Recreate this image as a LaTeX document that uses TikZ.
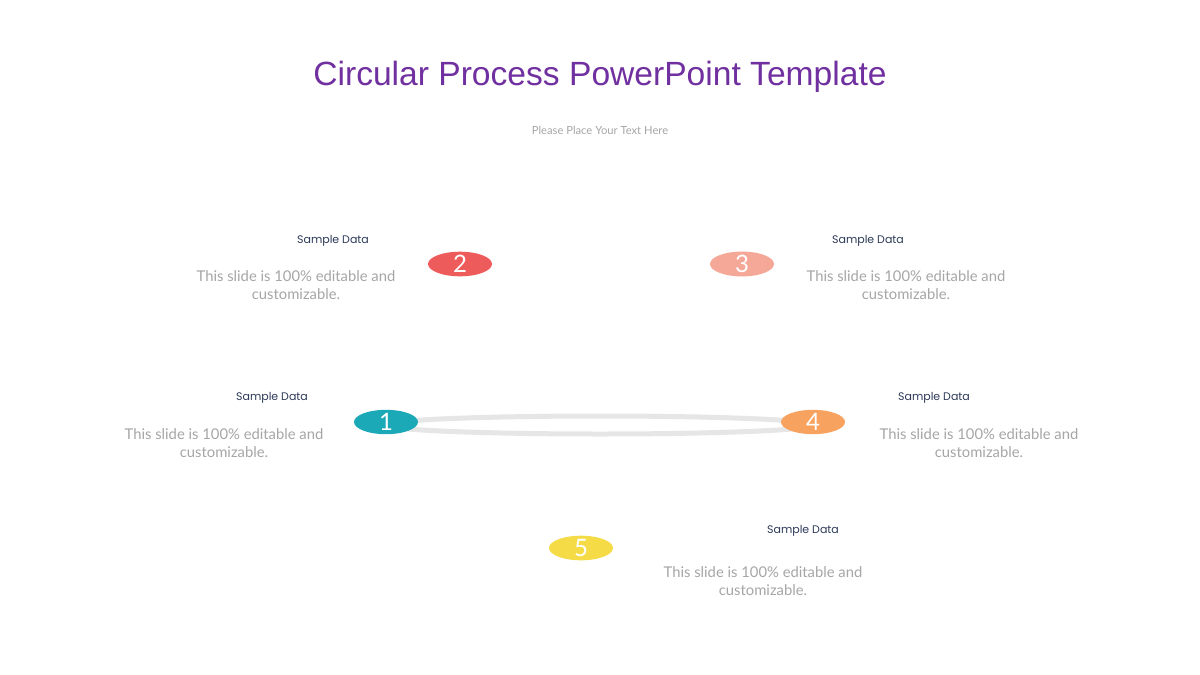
\documentclass[tikz,border=0pt]{standalone}
\usepackage{fontspec}
\setmainfont{Liberation Sans}
\newfontfamily\poppins{Poppins}
\newfontfamily\lato{Lato}
\usetikzlibrary{shapes.geometric}
\definecolor{titlec}{HTML}{7030A0}
\definecolor{headc}{HTML}{2E3A59}
\definecolor{bodyc}{HTML}{A6A6A6}
\definecolor{ringc}{HTML}{E6E6E6}
\definecolor{c1}{HTML}{1BA9B8}
\definecolor{c2}{HTML}{EE5B5B}
\definecolor{c3}{HTML}{F6A898}
\definecolor{c4}{HTML}{F8A25F}
\definecolor{c5}{HTML}{F5DC47}
\begin{document}
\begin{tikzpicture}[x=1pt,y=-1pt,
  head/.style={font=\poppins\fontsize{11}{13}\selectfont, text=headc, inner sep=0pt},
  body/.style={font=\lato\fontsize{14.8}{18}\selectfont, text=bodyc, align=center, inner sep=0pt},
  badge/.style={ellipse, minimum width=64pt, minimum height=19pt, inner sep=0pt,
    text=white, font=\lato\fontsize{24}{24}\selectfont}]
\useasboundingbox (0,0) rectangle (1200,675);
\fill[white] (0,0) rectangle (1200,675);
\node[font=\fontsize{33.6}{38}\selectfont, text=titlec] (title) at (600,77) {Circular Process PowerPoint Template};
\node[font=\lato\fontsize{11.2}{13}\selectfont, text=bodyc] (sub) at (600,130) {Please Place Your Text Here};
\draw[ringc, line width=5pt] (600,425) ellipse [x radius=214, y radius=9];
\node[badge, fill=c1] (b1) at (386,422) {1};
\node[badge, fill=c2] (b2) at (460,264) {2};
\node[badge, fill=c3] (b3) at (742,264) {3};
\node[badge, fill=c4] (b4) at (813,422) {4};
\node[badge, fill=c5] (b5) at (581,548) {5};
\node[head] (h2) at (333,241) {Sample Data};
\node[body] (t2) at (296,285) {This slide is 100\% editable and\\customizable.};
\node[head] (h3) at (868,241) {Sample Data};
\node[body] (t3) at (906,285) {This slide is 100\% editable and\\customizable.};
\node[head] (h1) at (272,398) {Sample Data};
\node[body] (t1) at (224,443) {This slide is 100\% editable and\\customizable.};
\node[head] (h4) at (934,398) {Sample Data};
\node[body] (t4) at (979,443) {This slide is 100\% editable and\\customizable.};
\node[head] (h5) at (803,531) {Sample Data};
\node[body] (t5) at (763,581) {This slide is 100\% editable and\\customizable.};
\end{tikzpicture}
\end{document}
